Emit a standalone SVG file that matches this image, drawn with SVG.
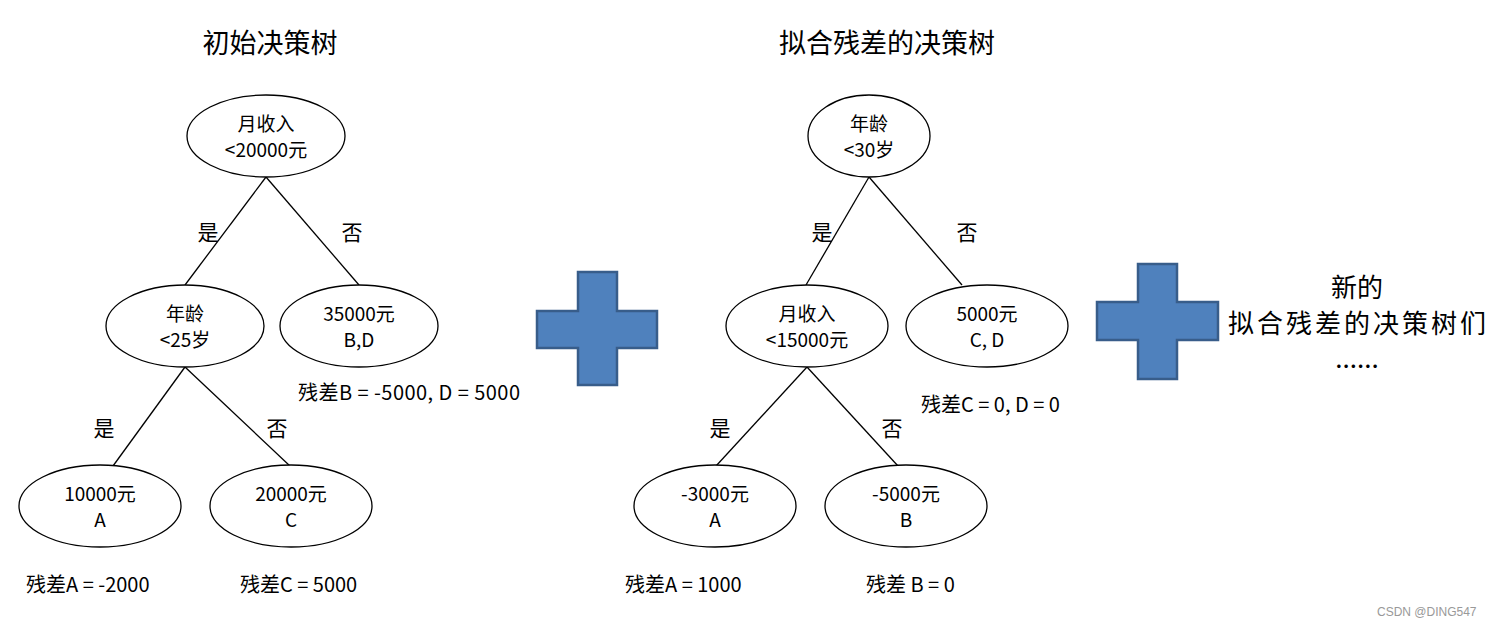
<svg xmlns="http://www.w3.org/2000/svg" width="1494" height="624" viewBox="0 0 1494 624">
<style>
text{font-family:"Noto Sans CJK SC","Liberation Sans",sans-serif;fill:#000}
.n{font-size:19px;text-anchor:middle}
.l{font-size:21px;text-anchor:middle}
.r{font-size:20px}
.t{font-size:27px;text-anchor:middle}
.w{font-size:26px;text-anchor:middle}
ellipse{fill:#fff;stroke:#000;stroke-width:1.3}
.c line{stroke:#000;stroke-width:1.3}
.plus{fill:#4f81bd;stroke:#385d8a;stroke-width:2.5}
</style>
<rect width="1494" height="624" fill="#fff"/>
<text class="t" x="270" y="53">初始决策树</text>
<text class="t" x="887" y="53">拟合残差的决策树</text>
<g class="c" id="connectors">
<line x1="266" y1="177" x2="185" y2="285"/><line x1="266" y1="177" x2="359" y2="285"/>
<line x1="185" y1="367" x2="113" y2="466"/><line x1="185" y1="367" x2="290" y2="466"/>
<line x1="869" y1="177" x2="806" y2="285"/><line x1="869" y1="177" x2="962" y2="285"/>
<line x1="807" y1="367" x2="716" y2="466"/><line x1="807" y1="367" x2="898" y2="466"/>
</g>
<text class="l" x="208" y="240">是</text><text class="l" x="352" y="240">否</text>
<text class="l" x="104" y="436">是</text><text class="l" x="277" y="436">否</text>
<text class="l" x="822" y="240">是</text><text class="l" x="967" y="240">否</text>
<text class="l" x="720" y="436">是</text><text class="l" x="892" y="436">否</text>
<g id="n1"><ellipse cx="266" cy="136" rx="79" ry="41"/><text class="n" x="266" y="131">月收入</text><text class="n" x="266" y="157">&lt;20000元</text></g>
<g id="n2"><ellipse cx="185" cy="326" rx="79" ry="41"/><text class="n" x="185" y="321">年龄</text><text class="n" x="185" y="347">&lt;25岁</text></g>
<g id="n3"><ellipse cx="359" cy="326" rx="79" ry="41"/><text class="n" x="359" y="321">35000元</text><text class="n" x="359" y="347">B,D</text></g>
<g id="n4"><ellipse cx="100" cy="506" rx="81" ry="41"/><text class="n" x="100" y="501">10000元</text><text class="n" x="100" y="527">A</text></g>
<g id="n5"><ellipse cx="291" cy="506" rx="81" ry="41"/><text class="n" x="291" y="501">20000元</text><text class="n" x="291" y="527">C</text></g>
<g id="m1"><ellipse cx="869" cy="136" rx="61" ry="41"/><text class="n" x="869" y="131">年龄</text><text class="n" x="869" y="157">&lt;30岁</text></g>
<g id="m2"><ellipse cx="807" cy="326" rx="81" ry="41"/><text class="n" x="807" y="321">月收入</text><text class="n" x="807" y="347">&lt;15000元</text></g>
<g id="m3"><ellipse cx="987" cy="326" rx="81" ry="41"/><text class="n" x="987" y="321">5000元</text><text class="n" x="987" y="347">C, D</text></g>
<g id="m4"><ellipse cx="715" cy="506" rx="81" ry="41"/><text class="n" x="715" y="501">-3000元</text><text class="n" x="715" y="527">A</text></g>
<g id="m5"><ellipse cx="906" cy="506" rx="81" ry="41"/><text class="n" x="906" y="501">-5000元</text><text class="n" x="906" y="527">B</text></g>
<text class="r" x="298" y="400" textLength="222">残差B = -5000, D = 5000</text>
<text class="r" x="26" y="592">残差A = -2000</text>
<text class="r" x="240" y="592">残差C = 5000</text>
<text class="r" x="921" y="412">残差C = 0, D = 0</text>
<text class="r" x="625" y="592">残差A = 1000</text>
<text class="r" x="866" y="592">残差 B = 0</text>
<g id="plus1"><path class="plus" d="M578 272H617V311H657V348H617V385H578V348H537V311H578Z"/></g>
<g id="plus2"><path class="plus" d="M1138 264H1177V302H1218V340H1177V379H1138V340H1097V302H1138Z"/></g>
<text class="w" x="1357" y="297">新的</text>
<text class="w" x="1357" y="333" textLength="258">拟合残差的决策树们</text>
<text class="w" x="1357" y="368">......</text>
<text x="1377" y="616" style="font-family:'Liberation Sans',sans-serif;font-size:12px;fill:#999">CSDN @DING547</text>
</svg>
